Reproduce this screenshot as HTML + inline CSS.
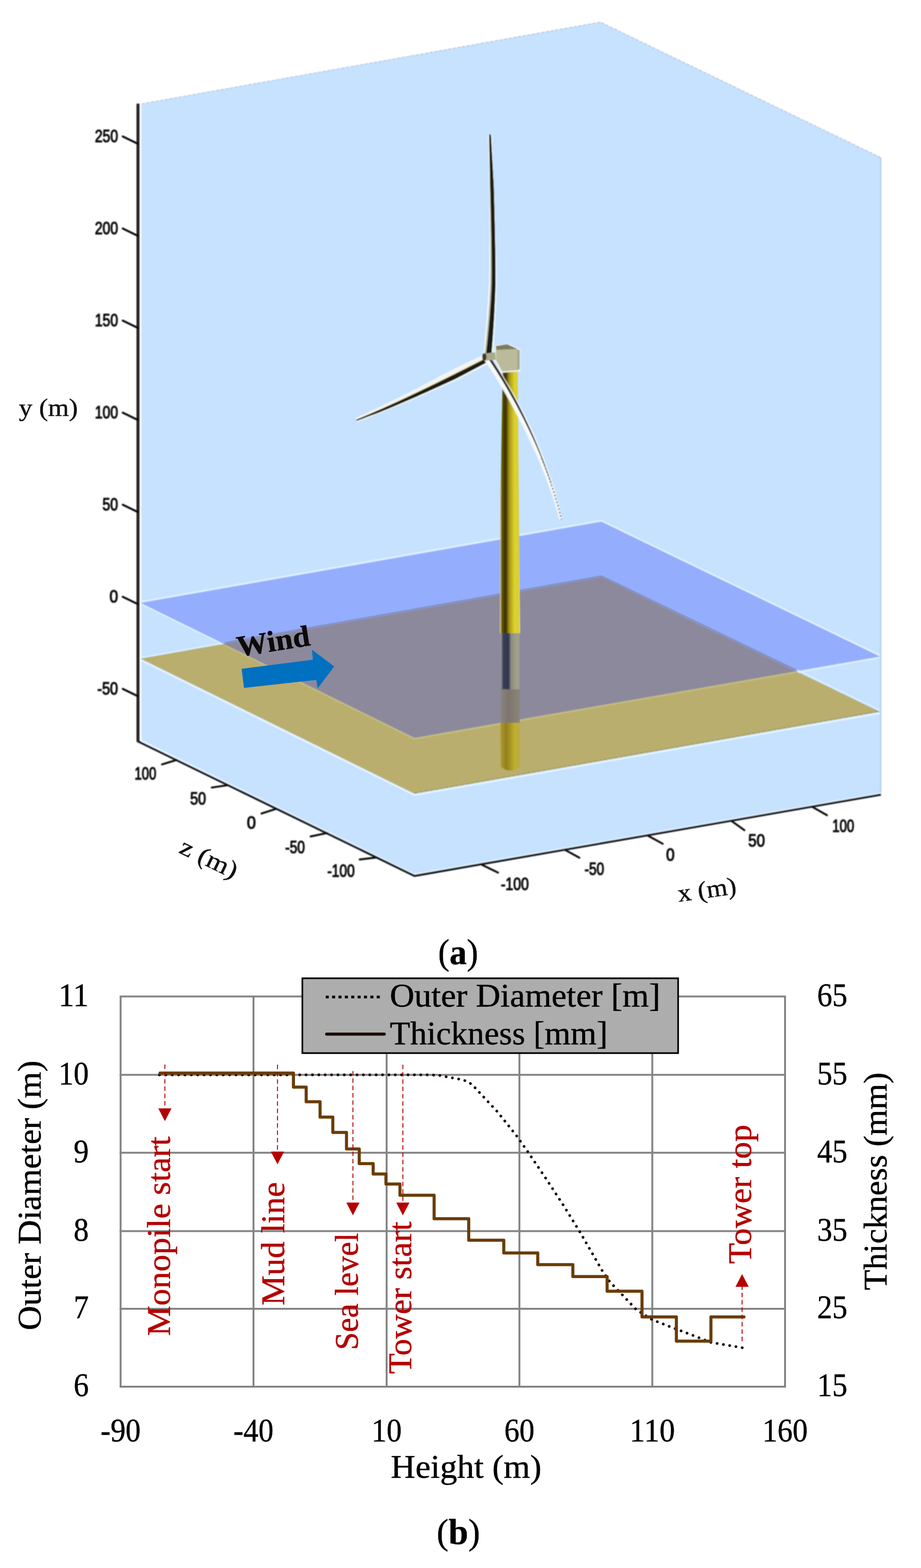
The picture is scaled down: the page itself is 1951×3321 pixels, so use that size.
<!DOCTYPE html>
<html lang="en"><head><meta charset="utf-8"><title>Figure: offshore wind turbine model and tower properties</title>
<style>
html,body{margin:0;padding:0;background:#fff;}
body{width:1951px;height:3321px;overflow:hidden;}
svg{display:block;}
.s{font-family:"Liberation Serif","DejaVu Serif",serif;}
.n{font-family:"Liberation Sans","DejaVu Sans",sans-serif;}
</style></head><body>
<svg width="1951" height="3321" viewBox="0 0 1951 3321">
<defs>
<linearGradient id="tw" x1="0" x2="1" y1="0" y2="0">
<stop offset="0" stop-color="#f0eeb8"/><stop offset="0.09" stop-color="#6a5c08"/><stop offset="0.28" stop-color="#352b00"/><stop offset="0.46" stop-color="#a89616"/><stop offset="0.72" stop-color="#ddd32a"/><stop offset="0.92" stop-color="#d6cd3c"/><stop offset="1" stop-color="#e4e29a"/>
</linearGradient>
<linearGradient id="twb" x1="0" x2="1" y1="0" y2="0">
<stop offset="0" stop-color="#a9a9a0"/><stop offset="0.14" stop-color="#3a3f58"/><stop offset="0.42" stop-color="#2f3450"/><stop offset="0.55" stop-color="#8a8c80"/><stop offset="0.85" stop-color="#a3a286"/><stop offset="1" stop-color="#9a9a90"/>
</linearGradient>
<linearGradient id="twg" x1="0" x2="1" y1="0" y2="0">
<stop offset="0" stop-color="#8a847e"/><stop offset="0.4" stop-color="#7d756d"/><stop offset="1" stop-color="#8c857a"/>
</linearGradient>
<linearGradient id="twy" x1="0" x2="1" y1="0" y2="0">
<stop offset="0" stop-color="#b09a30"/><stop offset="0.3" stop-color="#94801e"/><stop offset="0.75" stop-color="#c0b02c"/><stop offset="1" stop-color="#b8aa48"/>
</linearGradient>
<filter id="soft" x="-2%" y="-2%" width="104%" height="104%"><feGaussianBlur stdDeviation="1.1"/></filter>
</defs>
<rect width="1951" height="3321" fill="#ffffff"/>

<g id="raster1" filter="url(#soft)">
<g id="plot3d">
<polygon points="299.5,220 1272,47 1866,334 1866,1681 878,1852.5 299.5,1567" fill="#c6e2fe"/>
<polygon points="298,1395 1274,1222 1864,1507.5 878,1681" fill="#b9ae6d"/>
<polygon points="298,1277 1274,1105 1864,1390.5 878,1562.5" fill="#94adfc"/>
<polygon points="474,1363.7 1274,1222 1686,1421.5 878,1562.5" fill="#8b899b"/>
<polyline points="299.5,220 1272,47 1866,334" fill="none" stroke="#a9bdd6" stroke-width="1.6" stroke-dasharray="7 3"/>
<polyline points="1865.5,334 1865.5,1681" fill="none" stroke="#b3cdf0" stroke-width="3"/>
<polyline points="298,1274.5 1274,1102.5 1864,1388" fill="none" stroke="#e4f3ff" stroke-width="2.6"/>
<polyline points="1690,1424 1864,1393" fill="none" stroke="#e4f3ff" stroke-width="2.4"/>
<polyline points="300,1280 472,1364.5" fill="none" stroke="#e4f3ff" stroke-width="2.2"/>
<polyline points="298,1398 878,1684 1864,1510.5" fill="none" stroke="#eaf7ff" stroke-width="3"/>
<polyline points="1690,1419.5 1864,1504.5" fill="none" stroke="#e4f3ff" stroke-width="2.2"/>
<polyline points="300,1392.5 470,1362.5" fill="none" stroke="#e4f3ff" stroke-width="2.2"/>
<polyline points="878,1565 1686,1424" fill="none" stroke="#c9c18a" stroke-width="2"/>
<polyline points="476,1366.5 878,1565" fill="none" stroke="#c9c18a" stroke-width="2"/>
<polyline points="476,1361.5 1274,1220 1686,1419" fill="none" stroke="#7d7f9a" stroke-width="2"/>
<polyline points="878,1679.5 1864,1506" fill="none" stroke="#9c9450" stroke-width="1.8" stroke-dasharray="8 3"/>
<polyline points="300,1569.5 878,1851.5 1866,1680" fill="none" stroke="#eaf6ff" stroke-width="3"/>
</g>
<g id="axes3d" stroke="#26282c" stroke-width="6" fill="none" stroke-linecap="butt" stroke-linejoin="miter">
<polyline points="292.3,219.5 292.3,1569" stroke-width="6.4" stroke="#232323"/>
<polyline points="290,1569 878,1855 1866,1683" stroke-width="4.6" stroke="#141a24"/>
</g>
<g stroke="#101010" stroke-width="4.2" stroke-linecap="round">
<line x1="260" y1="289" x2="292" y2="304.5"/>
<line x1="260" y1="484" x2="292" y2="499.5"/>
<line x1="260" y1="679" x2="292" y2="694.5"/>
<line x1="260" y1="874" x2="292" y2="889.5"/>
<line x1="260" y1="1069" x2="292" y2="1084.5"/>
<line x1="260" y1="1264" x2="292" y2="1279.5"/>
<line x1="260" y1="1459" x2="292" y2="1474.5"/>
<line x1="374.3" y1="1609.5" x2="343.2" y2="1618.9"/>
<line x1="482.4" y1="1663" x2="448.6" y2="1668"/>
<line x1="583.8" y1="1713.5" x2="554" y2="1723"/>
<line x1="693.2" y1="1764.3" x2="658" y2="1771.6"/>
<line x1="797.3" y1="1816.2" x2="762" y2="1820.3"/>
<line x1="1021.5" y1="1831.8" x2="1054.9" y2="1848.2"/>
<line x1="1197.8" y1="1800.5" x2="1227.3" y2="1816.6"/>
<line x1="1373.3" y1="1770.3" x2="1403.7" y2="1787"/>
<line x1="1550.8" y1="1739.6" x2="1576.8" y2="1758.2"/>
<line x1="1720.9" y1="1709" x2="1751.8" y2="1726.6"/>
</g>
<g id="ticklabels3d">
<text class="n" x="201" y="301" font-size="37" textLength="49.0" lengthAdjust="spacingAndGlyphs" fill="#0a0a0a" stroke="#0a0a0a" stroke-width="1.7" stroke-linejoin="round">250</text>
<text class="n" x="201" y="496" font-size="37" textLength="49.0" lengthAdjust="spacingAndGlyphs" fill="#0a0a0a" stroke="#0a0a0a" stroke-width="1.7" stroke-linejoin="round">200</text>
<text class="n" x="201" y="691" font-size="37" textLength="49.0" lengthAdjust="spacingAndGlyphs" fill="#0a0a0a" stroke="#0a0a0a" stroke-width="1.7" stroke-linejoin="round">150</text>
<text class="n" x="201" y="886" font-size="37" textLength="49.0" lengthAdjust="spacingAndGlyphs" fill="#0a0a0a" stroke="#0a0a0a" stroke-width="1.7" stroke-linejoin="round">100</text>
<text class="n" x="217" y="1081" font-size="37" textLength="33.0" lengthAdjust="spacingAndGlyphs" fill="#0a0a0a" stroke="#0a0a0a" stroke-width="1.7" stroke-linejoin="round">50</text>
<text class="n" x="232" y="1276" font-size="37" textLength="18.0" lengthAdjust="spacingAndGlyphs" fill="#0a0a0a" stroke="#0a0a0a" stroke-width="1.7" stroke-linejoin="round">0</text>
<text class="n" x="206" y="1471" font-size="37" textLength="44.0" lengthAdjust="spacingAndGlyphs" fill="#0a0a0a" stroke="#0a0a0a" stroke-width="1.7" stroke-linejoin="round">-50</text>
<text class="n" x="285" y="1651.4" font-size="37" textLength="46.0" lengthAdjust="spacingAndGlyphs" fill="#0a0a0a" stroke="#0a0a0a" stroke-width="1.7" stroke-linejoin="round">100</text>
<text class="n" x="402.7" y="1704" font-size="37" textLength="33.8" lengthAdjust="spacingAndGlyphs" fill="#0a0a0a" stroke="#0a0a0a" stroke-width="1.7" stroke-linejoin="round">50</text>
<text class="n" x="523" y="1755.4" font-size="37" textLength="19.0" lengthAdjust="spacingAndGlyphs" fill="#0a0a0a" stroke="#0a0a0a" stroke-width="1.7" stroke-linejoin="round">0</text>
<text class="n" x="604" y="1806.8" font-size="37" textLength="42.0" lengthAdjust="spacingAndGlyphs" fill="#0a0a0a" stroke="#0a0a0a" stroke-width="1.7" stroke-linejoin="round">-50</text>
<text class="n" x="693.2" y="1856.8" font-size="37" textLength="58.2" lengthAdjust="spacingAndGlyphs" fill="#0a0a0a" stroke="#0a0a0a" stroke-width="1.7" stroke-linejoin="round">-100</text>
<text class="n" x="1061" y="1884.7" font-size="37" textLength="59.3" lengthAdjust="spacingAndGlyphs" fill="#0a0a0a" stroke="#0a0a0a" stroke-width="1.7" stroke-linejoin="round">-100</text>
<text class="n" x="1238.2" y="1853" font-size="37" textLength="41.7" lengthAdjust="spacingAndGlyphs" fill="#0a0a0a" stroke="#0a0a0a" stroke-width="1.7" stroke-linejoin="round">-50</text>
<text class="n" x="1411" y="1823.4" font-size="37" textLength="18.0" lengthAdjust="spacingAndGlyphs" fill="#0a0a0a" stroke="#0a0a0a" stroke-width="1.7" stroke-linejoin="round">0</text>
<text class="n" x="1585" y="1792.9" font-size="37" textLength="35.4" lengthAdjust="spacingAndGlyphs" fill="#0a0a0a" stroke="#0a0a0a" stroke-width="1.7" stroke-linejoin="round">50</text>
<text class="n" x="1763" y="1762" font-size="37" textLength="46.5" lengthAdjust="spacingAndGlyphs" fill="#0a0a0a" stroke="#0a0a0a" stroke-width="1.7" stroke-linejoin="round">100</text>
</g>
</g>
<text class="s" x="40" y="881" font-size="52" textLength="125" lengthAdjust="spacingAndGlyphs" fill="#111" stroke="#111" stroke-width="0.6">y (m)</text>
<text class="s" transform="translate(377,1805) rotate(26)" font-size="52" textLength="130" lengthAdjust="spacingAndGlyphs" fill="#111" stroke="#111" stroke-width="0.6">z (m)</text>
<text class="s" transform="translate(1438,1910) rotate(-8)" font-size="52" textLength="125" lengthAdjust="spacingAndGlyphs" fill="#111" stroke="#111" stroke-width="0.6">x (m)</text>
<g id="turbine" filter="url(#soft)">
<path d="M1065,785 L1096.5,785 L1099,1050 L1102,1341 L1059,1341 L1060,1050 Z" fill="url(#tw)"/>
<path d="M1060,1341 L1101,1341 L1101,1460 L1061,1460 Z" fill="url(#twb)"/>
<path d="M1061,1460 L1101,1460 L1101,1531 L1061,1531 Z" fill="url(#twg)"/>
<path d="M1060,1531 L1101,1531 L1101,1624 Q1081,1640 1061,1624 Z" fill="url(#twy)"/>
<path d="M1049,733 L1074,729 L1101,740 L1101,785 L1063,788 L1049,763 Z" fill="#bbba9b" stroke="#eef3f6" stroke-width="3"/>
<path d="M1050,733 L1074,729 L1096,739 L1052,741 Z" fill="#7c7c5c"/>
<path d="M1096,741 L1101,741 L1101,782 L1096,782 Z" fill="#a4a690"/>
<polygon points="1044.5,753.9 1045.0,746.6 1045.5,738.9 1046.1,730.9 1046.7,722.6 1047.3,713.9 1047.9,705.0 1048.5,695.7 1049.1,686.2 1049.6,676.3 1050.2,666.2 1050.7,655.8 1051.2,645.2 1051.6,634.3 1052.0,623.2 1052.4,611.8 1052.6,600.2 1052.5,591.3 1052.4,582.3 1052.3,572.9 1052.1,563.4 1051.9,553.5 1051.7,543.4 1051.4,533.1 1051.1,522.6 1050.8,511.8 1050.5,500.9 1050.2,489.8 1049.8,478.5 1049.4,467.1 1049.0,455.5 1048.6,443.8 1048.1,431.9 1047.7,420.0 1047.2,407.9 1046.8,395.8 1046.3,383.6 1045.8,371.3 1045.2,359.0 1044.7,346.7 1044.2,334.3 1043.7,321.9 1043.1,309.6 1042.6,297.2 1042.0,284.9 1034.0,285.1 1034.2,297.5 1034.5,309.9 1034.7,322.2 1034.9,334.6 1035.1,347.0 1035.3,359.3 1035.5,371.6 1035.7,383.9 1035.8,396.1 1036.0,408.2 1036.1,420.3 1036.3,432.2 1036.4,444.1 1036.5,455.8 1036.5,467.4 1036.6,478.8 1036.6,490.1 1036.7,501.2 1036.7,512.1 1036.6,522.8 1036.6,533.3 1036.5,543.6 1036.4,553.6 1036.3,563.5 1036.2,573.0 1036.0,582.3 1035.8,591.3 1035.5,599.8 1034.9,611.1 1034.3,622.4 1033.6,633.4 1032.9,644.2 1032.2,654.7 1031.5,665.0 1030.7,675.0 1029.9,684.7 1029.1,694.2 1028.3,703.4 1027.5,712.3 1026.7,720.8 1025.9,729.1 1025.1,737.1 1024.3,744.7 1023.5,752.0" fill="#f3f7fa"/>
<polygon points="1041.0,753.6 1041.5,746.3 1042.1,738.6 1042.7,730.6 1043.4,722.3 1044.0,713.7 1044.6,704.7 1045.3,695.5 1045.9,685.9 1046.5,676.1 1047.1,666.0 1047.6,655.6 1048.1,645.0 1048.6,634.1 1049.1,623.0 1049.5,611.7 1049.9,600.1 1050.0,591.3 1049.9,582.3 1049.9,572.9 1049.8,563.4 1049.7,553.5 1049.6,543.5 1049.5,533.1 1049.3,522.6 1049.1,511.9 1048.9,500.9 1048.6,489.8 1048.4,478.5 1048.1,467.1 1047.8,455.5 1047.5,443.8 1047.2,431.9 1046.8,420.0 1046.5,407.9 1046.1,395.8 1045.5,383.6 1044.8,371.4 1044.2,359.1 1043.5,346.7 1042.8,334.4 1042.1,322.0 1041.4,309.6 1040.7,297.3 1040.0,284.9 1036.0,285.1 1036.1,297.4 1036.3,309.8 1036.4,322.2 1036.5,334.6 1036.7,346.9 1036.8,359.3 1036.9,371.6 1037.0,383.9 1037.1,396.1 1037.3,408.2 1037.6,420.3 1037.8,432.2 1038.0,444.0 1038.2,455.7 1038.4,467.3 1038.6,478.8 1038.7,490.0 1038.8,501.1 1038.9,512.0 1039.0,522.8 1039.1,533.3 1039.1,543.6 1039.1,553.6 1039.1,563.4 1039.1,573.0 1039.0,582.3 1038.9,591.3 1038.8,599.9 1038.3,611.3 1037.7,622.5 1037.1,633.6 1036.4,644.3 1035.6,654.9 1034.9,665.2 1034.1,675.2 1033.2,685.0 1032.4,694.4 1031.5,703.6 1030.7,712.5 1029.8,721.1 1029.0,729.4 1028.1,737.4 1027.3,745.0 1026.5,752.3" fill="#b9b59a"/>
<polygon points="1041.0,753.6 1041.5,746.3 1042.1,738.6 1042.7,730.6 1043.4,722.3 1044.0,713.7 1044.6,704.7 1045.3,695.5 1045.9,685.9 1046.5,676.1 1047.1,666.0 1047.6,655.6 1048.1,645.0 1048.6,634.1 1049.1,623.0 1049.5,611.7 1049.9,600.1 1050.0,591.3 1049.9,582.3 1049.9,572.9 1049.8,563.4 1049.7,553.5 1049.6,543.5 1049.5,533.1 1049.3,522.6 1049.1,511.9 1048.9,500.9 1048.6,489.8 1048.4,478.5 1048.1,467.1 1047.8,455.5 1047.5,443.8 1047.2,431.9 1046.8,420.0 1046.5,407.9 1046.1,395.8 1045.5,383.6 1044.8,371.4 1044.2,359.1 1043.5,346.7 1042.8,334.4 1042.1,322.0 1041.4,309.6 1040.7,297.3 1040.0,284.9 1036.0,285.1 1036.3,297.4 1036.6,309.8 1036.9,322.2 1037.2,334.5 1037.5,346.9 1037.8,359.3 1038.1,371.6 1038.3,383.8 1038.6,396.0 1038.9,408.2 1039.2,420.2 1039.5,432.2 1039.8,444.0 1040.1,455.7 1040.3,467.3 1040.6,478.7 1040.8,490.0 1041.0,501.1 1041.1,512.0 1041.3,522.7 1041.4,533.2 1041.5,543.5 1041.6,553.6 1041.6,563.4 1041.7,573.0 1041.7,582.3 1041.6,591.3 1041.6,599.9 1041.1,611.4 1040.6,622.7 1040.1,633.7 1039.4,644.5 1038.6,655.1 1037.9,665.4 1037.1,675.4 1036.2,685.2 1035.4,694.7 1034.5,703.9 1033.7,712.8 1032.8,721.4 1032.0,729.7 1031.1,737.6 1030.3,745.3 1029.5,752.5" fill="#161c14"/>
<polygon points="1024.0,751.2 1017.3,754.5 1010.6,757.7 1003.9,761.0 997.1,764.3 990.4,767.6 983.7,770.8 976.9,774.1 970.2,777.3 963.4,780.6 956.7,783.8 950.1,787.4 943.4,790.9 936.8,794.4 930.2,798.0 923.5,801.5 916.9,805.0 910.2,808.5 903.6,812.0 896.9,815.5 890.2,818.9 883.5,822.4 876.7,825.8 870.0,829.3 863.3,832.7 856.5,836.1 849.7,839.5 843.0,842.9 836.2,846.2 829.3,849.6 822.5,852.9 815.7,856.2 808.8,859.5 801.9,862.8 795.0,866.1 788.1,869.3 781.2,872.6 774.3,875.8 767.3,879.0 760.3,882.2 753.3,885.3 756.7,893.7 763.9,891.0 771.1,888.2 778.3,885.5 785.5,882.7 792.7,879.9 799.8,877.1 806.9,874.3 814.1,871.4 821.1,868.6 828.2,865.7 835.3,862.8 842.4,859.9 849.4,857.0 856.4,854.0 863.4,851.1 870.4,848.1 877.4,845.1 884.4,842.1 891.4,839.1 898.3,836.1 905.3,833.0 912.2,830.0 919.1,827.0 926.0,823.9 932.9,820.8 939.8,817.7 946.7,814.6 953.6,811.5 960.5,808.4 967.3,805.3 974.0,801.9 980.7,798.5 987.4,795.0 994.1,791.6 1000.7,788.1 1007.4,784.7 1014.0,781.2 1020.7,777.7 1027.3,774.3 1034.0,770.8" fill="#f3f7fa"/>
<polygon points="1025.8,754.8 1019.1,758.0 1012.4,761.2 1005.6,764.5 998.9,767.7 992.1,770.9 985.3,774.1 978.6,777.4 971.8,780.6 965.0,783.8 958.2,787.0 951.6,790.4 944.9,793.9 938.3,797.4 931.6,800.9 924.9,804.3 918.2,807.8 911.5,811.2 904.8,814.6 898.1,818.1 891.4,821.5 884.6,824.9 877.9,828.2 871.1,831.6 864.3,835.0 857.6,838.3 850.8,841.7 843.9,845.0 837.1,848.3 830.3,851.6 823.4,854.9 816.5,858.1 809.6,861.4 802.8,864.8 795.9,868.2 789.1,871.5 782.2,874.9 775.3,878.2 768.3,881.5 761.4,884.8 754.4,888.1 754.8,889.0 761.9,886.1 769.0,883.1 776.1,880.1 783.1,877.1 790.2,874.1 797.2,871.1 804.2,868.0 811.2,864.9 818.2,861.8 825.1,858.7 832.1,855.6 839.0,852.5 845.9,849.3 852.8,846.1 859.7,842.9 866.6,839.7 873.4,836.5 880.3,833.3 887.1,830.1 893.9,826.8 900.7,823.6 907.5,820.3 914.3,817.0 921.1,813.7 927.9,810.4 934.6,807.1 941.4,803.8 948.1,800.5 954.9,797.1 961.6,793.8 968.3,790.4 975.0,787.1 981.8,783.7 988.5,780.4 995.2,777.0 1001.8,773.6 1008.5,770.3 1015.2,766.9 1021.9,763.5 1028.5,760.1" fill="#f6f4e6"/>
<polygon points="1027.9,758.8 1021.2,762.2 1014.6,765.6 1007.9,769.0 1001.2,772.4 994.5,775.8 987.9,779.2 981.2,782.6 974.5,786.0 967.8,789.3 961.1,792.7 954.4,796.1 947.6,799.4 940.9,802.8 934.2,806.1 927.4,809.5 920.7,812.8 913.9,816.1 907.1,819.4 900.3,822.7 893.5,826.0 886.7,829.3 879.9,832.5 873.1,835.8 866.2,839.0 859.4,842.3 852.5,845.5 845.6,848.7 838.7,851.9 831.8,855.0 824.9,858.2 817.9,861.3 811.0,864.4 804.0,867.5 797.0,870.6 790.0,873.7 783.0,876.7 775.9,879.8 768.9,882.8 761.8,885.8 754.7,888.8 755.0,889.5 762.1,886.6 769.2,883.6 776.3,880.6 783.3,877.6 790.4,874.6 797.4,871.5 804.4,868.5 811.4,865.4 818.4,862.3 825.3,859.2 832.3,856.1 839.2,852.9 846.1,849.8 853.0,846.6 859.9,843.4 866.8,840.2 873.6,837.0 880.5,833.8 887.3,830.5 894.1,827.3 901.0,824.0 907.8,820.7 914.6,817.5 921.3,814.2 928.1,810.9 934.9,807.6 941.6,804.2 948.4,800.9 955.1,797.6 961.8,794.2 968.6,790.9 975.3,787.5 982.0,784.2 988.7,780.8 995.4,777.5 1002.1,774.1 1008.7,770.7 1015.4,767.3 1022.1,763.9 1028.8,760.6" fill="#8a866a"/>
<polygon points="1028.5,760.1 1021.9,763.5 1015.2,766.9 1008.5,770.3 1001.8,773.6 995.2,777.0 988.5,780.4 981.8,783.7 975.0,787.1 968.3,790.4 961.6,793.8 954.9,797.1 948.1,800.5 941.4,803.8 934.6,807.1 927.9,810.4 921.1,813.7 914.3,817.0 907.5,820.3 900.7,823.6 893.9,826.8 887.1,830.1 880.3,833.3 873.4,836.5 866.6,839.7 859.7,842.9 852.8,846.1 845.9,849.3 839.0,852.5 832.1,855.6 825.1,858.7 818.2,861.8 811.2,864.9 804.2,868.0 797.2,871.1 790.2,874.1 783.1,877.1 776.1,880.1 769.0,883.1 761.9,886.1 754.8,889.0 755.8,891.3 763.0,888.7 770.2,886.0 777.4,883.3 784.6,880.6 791.8,877.9 799.0,875.2 806.1,872.4 813.2,869.6 820.3,866.7 827.4,863.7 834.4,860.8 841.4,857.8 848.4,854.8 855.4,851.8 862.4,848.8 869.4,845.8 876.3,842.7 883.3,839.7 890.2,836.6 897.1,833.5 904.0,830.4 910.9,827.3 917.8,824.2 924.7,821.1 931.6,818.0 938.4,814.8 945.3,811.7 952.1,808.5 958.9,805.4 965.8,802.2 972.4,798.7 979.1,795.2 985.8,791.8 992.4,788.3 999.0,784.8 1005.7,781.3 1012.3,777.8 1018.9,774.3 1025.5,770.8 1032.2,767.2" fill="#1d1d0e"/>
<polygon points="1025.3,762.4 1030.0,769.4 1034.7,776.4 1039.3,783.5 1043.9,790.8 1048.6,798.1 1053.2,805.6 1057.8,813.2 1062.4,820.9 1067.0,828.6 1071.6,836.5 1076.1,844.5 1080.6,852.5 1085.1,860.7 1089.5,868.9 1093.9,877.2 1098.3,885.6 1102.6,894.0 1106.9,902.6 1111.1,911.2 1115.2,919.8 1119.5,928.5 1123.7,937.2 1127.8,945.9 1131.8,954.8 1135.8,963.6 1139.7,972.5 1143.5,981.5 1147.3,990.5 1150.9,999.6 1154.5,1008.6 1158.0,1017.8 1161.4,1026.9 1164.7,1036.1 1167.8,1045.3 1170.9,1054.5 1173.9,1063.7 1176.7,1073.0 1179.5,1082.3 1182.1,1091.5 1184.6,1100.8 1191.4,1099.2 1189.3,1089.7 1187.0,1080.2 1184.6,1070.8 1182.1,1061.3 1179.5,1051.9 1176.8,1042.4 1174.0,1033.0 1171.0,1023.6 1168.0,1014.2 1164.9,1004.9 1161.6,995.6 1158.3,986.3 1154.9,977.0 1151.4,967.8 1147.8,958.6 1144.1,949.5 1140.4,940.4 1136.6,931.3 1132.7,922.4 1128.8,913.4 1124.6,904.6 1120.4,895.9 1116.1,887.3 1111.8,878.7 1107.5,870.2 1103.0,861.7 1098.6,853.4 1094.1,845.1 1089.6,836.9 1085.0,828.8 1080.5,820.8 1075.9,812.9 1071.2,805.1 1066.6,797.4 1062.0,789.8 1057.3,782.3 1052.6,775.0 1048.0,767.7 1043.3,760.6 1038.7,753.6" fill="#f3f7fa" opacity="0.92"/>
<polygon points="1032.4,757.7 1037.1,764.7 1041.8,771.8 1046.4,778.9 1051.1,786.3 1055.8,793.7 1060.4,801.2 1065.1,808.8 1069.7,816.6 1074.3,824.4 1078.9,832.3 1083.4,840.4 1088.0,848.5 1092.5,856.7 1096.9,865.0 1101.3,873.3 1105.7,881.8 1110.1,890.3 1114.3,898.9 1118.6,907.6 1122.7,916.3 1126.8,925.1 1130.9,933.9 1134.9,942.8 1138.8,951.8 1142.6,960.8 1146.4,969.8 1150.1,978.9 1153.7,988.1 1157.2,997.2 1160.6,1006.4 1163.9,1015.7 1167.2,1024.9 1168.3,1024.5 1165.2,1015.2 1162.1,1005.9 1158.8,996.6 1155.5,987.4 1152.1,978.1 1148.5,968.9 1144.9,959.8 1141.3,950.7 1137.5,941.6 1133.7,932.6 1129.8,923.7 1125.9,914.8 1121.8,906.0 1117.8,897.2 1113.6,888.5 1109.5,879.9 1105.2,871.3 1101.0,862.8 1096.7,854.4 1092.2,846.1 1087.8,837.9 1083.3,829.8 1078.8,821.8 1074.2,813.9 1069.6,806.1 1065.1,798.4 1060.5,790.8 1055.9,783.3 1051.2,775.9 1046.6,768.6 1042.0,761.4 1037.4,754.4" fill="#2a2e34"/>
<polygon points="1027.8,760.8 1032.5,767.7 1037.2,774.7 1041.9,781.9 1046.5,789.1 1051.2,796.5 1055.8,804.0 1060.5,811.6 1065.1,819.3 1069.7,827.1 1074.3,835.0 1078.9,842.9 1083.4,851.0 1087.9,859.2 1092.4,867.4 1096.9,875.7 1101.3,884.0 1105.7,892.5 1110.1,901.0 1114.4,909.6 1118.6,918.2 1122.8,926.9 1126.9,935.7 1130.9,944.5 1134.9,953.4 1138.8,962.4 1142.7,971.3 1146.4,980.4 1150.1,989.4 1153.7,998.5 1157.1,1007.7 1160.5,1016.9 1163.8,1026.1 1167.2,1024.9 1163.9,1015.7 1160.6,1006.4 1157.2,997.2 1153.7,988.0 1150.1,978.9 1146.5,969.8 1142.7,960.7 1138.9,951.7 1135.0,942.8 1131.0,933.8 1127.0,925.0 1122.9,916.2 1118.7,907.5 1114.5,898.8 1110.3,890.2 1105.9,881.7 1101.6,873.2 1097.2,864.8 1092.7,856.5 1088.2,848.3 1083.7,840.2 1079.2,832.2 1074.6,824.2 1070.0,816.4 1065.4,808.6 1060.8,801.0 1056.1,793.5 1051.5,786.0 1046.8,778.7 1042.1,771.5 1037.5,764.4 1032.8,757.4" fill="#fdfdf8"/>
<path d="M1145.5,970.2 L1149.2,979.3 L1152.8,988.4 L1156.3,997.6 L1159.7,1006.8 L1163.0,1016.0 L1166.2,1025.3 L1169.3,1034.6 L1172.3,1043.9 L1175.2,1053.2 L1178.0,1062.5 L1180.7,1071.9 L1183.2,1081.3 L1185.7,1090.6 L1188.0,1100.0" fill="none" stroke="#6f767c" stroke-width="3" stroke-dasharray="3.5 4" transform="translate(1.5,0)"/>
<path d="M1025,749 L1049,746 L1050,762 L1027,764 Z" fill="#a9a98c"/>
<ellipse cx="1026" cy="756" rx="4.5" ry="8" fill="#3a3b2a"/>
</g>
<polygon points="511.8,1416.6 662.9,1397.3 660.8,1376 707.9,1411.5 673,1458.1 670,1439.9 516.9,1457.1" fill="#0070c0"/>
<text class="s" transform="translate(505,1391) rotate(-9)" font-size="63" font-weight="bold" textLength="156" lengthAdjust="spacingAndGlyphs" fill="#0a0a0a" stroke="#0a0a0a" stroke-width="0.6">Wind</text>
<text class="s" x="928" y="2042" font-size="76" textLength="85" lengthAdjust="spacingAndGlyphs" fill="#000" stroke="#000" stroke-width="0.6">(<tspan font-weight="bold">a</tspan>)</text>
<g id="grid" stroke="#838383" stroke-width="4" fill="none">
<line x1="255.5" y1="2110.5" x2="255.5" y2="2937"/>
<line x1="537" y1="2110.5" x2="537" y2="2937"/>
<line x1="819" y1="2110.5" x2="819" y2="2937"/>
<line x1="1100.3" y1="2110.5" x2="1100.3" y2="2937"/>
<line x1="1381.8" y1="2110.5" x2="1381.8" y2="2937"/>
<line x1="1663" y1="2110.5" x2="1663" y2="2937"/>
<line x1="253.5" y1="2110.5" x2="1665" y2="2110.5"/>
<line x1="253.5" y1="2276.5" x2="1665" y2="2276.5"/>
<line x1="253.5" y1="2441.5" x2="1665" y2="2441.5"/>
<line x1="253.5" y1="2607.5" x2="1665" y2="2607.5"/>
<line x1="253.5" y1="2772" x2="1665" y2="2772"/>
<line x1="253.5" y1="2937" x2="1665" y2="2937"/>
</g>
<path d="M337.8,2276.5 L906.8,2276.5 L930,2277.5 L947.3,2281 L970,2285 L987.8,2289.5 L1000,2297 L1008,2305.7 L1053.7,2354.7 L1096,2407.8 L1119.6,2441.6 L1156.8,2496.6 L1193.9,2553.4 L1229.4,2610.8 L1276.7,2692.9 L1291.9,2714.9 L1320,2744.3 L1347.6,2773.6 L1381.4,2795 L1418.2,2809.5 L1469,2828.7 L1506,2843.2 L1573.6,2854.7" fill="none" stroke="#1a0808" stroke-width="5.8" stroke-linecap="round" stroke-dasharray="0.1 13.4"/>
<path d="M339,2272.7 L621.6,2272.7 L621.6,2302.4 L648.6,2302.4 L648.6,2333.4 L678,2333.4 L678,2365.9 L705,2365.9 L705,2398.6 L734,2398.6 L734,2433.4 L761,2433.4 L761,2464.5 L790.5,2464.5 L790.5,2486.5 L817.6,2486.5 L817.6,2507.8 L847.3,2507.8 L847.3,2531.4 L919.6,2531.4 L919.6,2581.2 L992.9,2581.2 L992.9,2626.7 L1067.2,2626.7 L1067.2,2653.7 L1139.2,2653.7 L1139.2,2678.4 L1213.5,2678.4 L1213.5,2703.7 L1286.1,2703.7 L1286.1,2734.8 L1360,2734.8 L1360,2789.2 L1432.8,2789.2 L1432.8,2840.5 L1506,2840.5 L1506,2789.2 L1576,2789.2" fill="none" stroke="#6a3c06" stroke-width="6.5" stroke-linecap="round" stroke-linejoin="round"/>
<line x1="349.3" y1="2254.5" x2="349.3" y2="2350.5" stroke="#b40000" stroke-width="2" stroke-dasharray="9.5 6"/>
<polygon points="335.3,2347.5 363.3,2347.5 349.3,2374.5" fill="#b40000"/>
<line x1="587.8" y1="2255" x2="587.8" y2="2442" stroke="#b40000" stroke-width="2" stroke-dasharray="9.5 6"/>
<polygon points="573.8,2439 601.8,2439 587.8,2466" fill="#b40000"/>
<line x1="747.6" y1="2268.6" x2="747.6" y2="2550" stroke="#b40000" stroke-width="2" stroke-dasharray="9.5 6"/>
<polygon points="733.6,2547 761.6,2547 747.6,2574" fill="#b40000"/>
<line x1="853.4" y1="2255" x2="853.4" y2="2550" stroke="#b40000" stroke-width="2" stroke-dasharray="9.5 6"/>
<polygon points="839.4,2547 867.4,2547 853.4,2574" fill="#b40000"/>
<line x1="1572" y1="2840.5" x2="1572" y2="2722.6" stroke="#b40000" stroke-width="2" stroke-dasharray="9.5 6"/>
<polygon points="1558,2725.6 1586,2725.6 1572,2698.6" fill="#b40000"/>
<text class="s" transform="translate(360,2829.6) rotate(-90)" font-size="69" textLength="422.6" lengthAdjust="spacingAndGlyphs" fill="#b40000" stroke="#b40000" stroke-width="0.6">Monopile start</text>
<text class="s" transform="translate(601.5,2765) rotate(-90)" font-size="69" textLength="261.3" lengthAdjust="spacingAndGlyphs" fill="#b40000" stroke="#b40000" stroke-width="0.6">Mud line</text>
<text class="s" transform="translate(757.8,2859.5) rotate(-90)" font-size="69" textLength="248.2" lengthAdjust="spacingAndGlyphs" fill="#b40000" stroke="#b40000" stroke-width="0.6">Sea level</text>
<text class="s" transform="translate(870.7,2910) rotate(-90)" font-size="69" textLength="323.0" lengthAdjust="spacingAndGlyphs" fill="#b40000" stroke="#b40000" stroke-width="0.6">Tower start</text>
<text class="s" transform="translate(1591,2676.7) rotate(-90)" font-size="69" textLength="294.7" lengthAdjust="spacingAndGlyphs" fill="#b40000" stroke="#b40000" stroke-width="0.6">Tower top</text>
<text class="s" transform="translate(85.5,2817.6) rotate(-90)" font-size="69" textLength="571.6" lengthAdjust="spacingAndGlyphs" fill="#000" stroke="#000" stroke-width="0.6">Outer Diameter (m)</text>
<text class="s" transform="translate(1878,2732.4) rotate(-90)" font-size="69" textLength="460.8" lengthAdjust="spacingAndGlyphs" fill="#000" stroke="#000" stroke-width="0.6">Thickness (mm)</text>
<rect x="640.5" y="2072" width="796" height="158.5" fill="#adadad" stroke="#000" stroke-width="3.5"/>
<line x1="690" y1="2111.6" x2="806" y2="2111.6" stroke="#0c0404" stroke-width="5.6" stroke-dasharray="6.5 7"/>
<line x1="692" y1="2190.3" x2="814" y2="2190.3" stroke="#1a0c02" stroke-width="6.5" stroke-linecap="round"/>
<text class="s" x="825.7" y="2132" font-size="69" textLength="573" lengthAdjust="spacingAndGlyphs" fill="#000" stroke="#000" stroke-width="0.6">Outer Diameter [m]</text>
<text class="s" x="825.7" y="2211.6" font-size="69" textLength="461.5" lengthAdjust="spacingAndGlyphs" fill="#000" stroke="#000" stroke-width="0.6">Thickness [mm]</text>
<text class="s" x="124" y="2130.5" font-size="69" textLength="64" lengthAdjust="spacingAndGlyphs" fill="#000" stroke="#000" stroke-width="0.6">11</text>
<text class="s" x="124" y="2296.5" font-size="69" textLength="64" lengthAdjust="spacingAndGlyphs" fill="#000" stroke="#000" stroke-width="0.6">10</text>
<text class="s" x="156" y="2461.5" font-size="69" textLength="32" lengthAdjust="spacingAndGlyphs" fill="#000" stroke="#000" stroke-width="0.6">9</text>
<text class="s" x="156" y="2627.5" font-size="69" textLength="32" lengthAdjust="spacingAndGlyphs" fill="#000" stroke="#000" stroke-width="0.6">8</text>
<text class="s" x="156" y="2792.0" font-size="69" textLength="32" lengthAdjust="spacingAndGlyphs" fill="#000" stroke="#000" stroke-width="0.6">7</text>
<text class="s" x="156" y="2957.0" font-size="69" textLength="32" lengthAdjust="spacingAndGlyphs" fill="#000" stroke="#000" stroke-width="0.6">6</text>
<text class="s" x="1731" y="2130.5" font-size="69" textLength="64" lengthAdjust="spacingAndGlyphs" fill="#000" stroke="#000" stroke-width="0.6">65</text>
<text class="s" x="1731" y="2296.5" font-size="69" textLength="64" lengthAdjust="spacingAndGlyphs" fill="#000" stroke="#000" stroke-width="0.6">55</text>
<text class="s" x="1731" y="2461.5" font-size="69" textLength="64" lengthAdjust="spacingAndGlyphs" fill="#000" stroke="#000" stroke-width="0.6">45</text>
<text class="s" x="1731" y="2627.5" font-size="69" textLength="64" lengthAdjust="spacingAndGlyphs" fill="#000" stroke="#000" stroke-width="0.6">35</text>
<text class="s" x="1731" y="2792.0" font-size="69" textLength="64" lengthAdjust="spacingAndGlyphs" fill="#000" stroke="#000" stroke-width="0.6">25</text>
<text class="s" x="1731" y="2957.0" font-size="69" textLength="64" lengthAdjust="spacingAndGlyphs" fill="#000" stroke="#000" stroke-width="0.6">15</text>
<text class="s" x="213.0" y="3053" font-size="69" textLength="85" lengthAdjust="spacingAndGlyphs" fill="#000" stroke="#000" stroke-width="0.6">-90</text>
<text class="s" x="494.5" y="3053" font-size="69" textLength="85" lengthAdjust="spacingAndGlyphs" fill="#000" stroke="#000" stroke-width="0.6">-40</text>
<text class="s" x="787.0" y="3053" font-size="69" textLength="64" lengthAdjust="spacingAndGlyphs" fill="#000" stroke="#000" stroke-width="0.6">10</text>
<text class="s" x="1068.3" y="3053" font-size="69" textLength="64" lengthAdjust="spacingAndGlyphs" fill="#000" stroke="#000" stroke-width="0.6">60</text>
<text class="s" x="1333.8" y="3053" font-size="69" textLength="96" lengthAdjust="spacingAndGlyphs" fill="#000" stroke="#000" stroke-width="0.6">110</text>
<text class="s" x="1615.0" y="3053" font-size="69" textLength="96" lengthAdjust="spacingAndGlyphs" fill="#000" stroke="#000" stroke-width="0.6">160</text>
<text class="s" x="827.7" y="3129.6" font-size="69" textLength="319.5" lengthAdjust="spacingAndGlyphs" fill="#000" stroke="#000" stroke-width="0.6">Height (m)</text>
<text class="s" x="925" y="3270" font-size="76" textLength="92" lengthAdjust="spacingAndGlyphs" fill="#000" stroke="#000" stroke-width="0.6">(<tspan font-weight="bold">b</tspan>)</text>
</svg></body></html>
